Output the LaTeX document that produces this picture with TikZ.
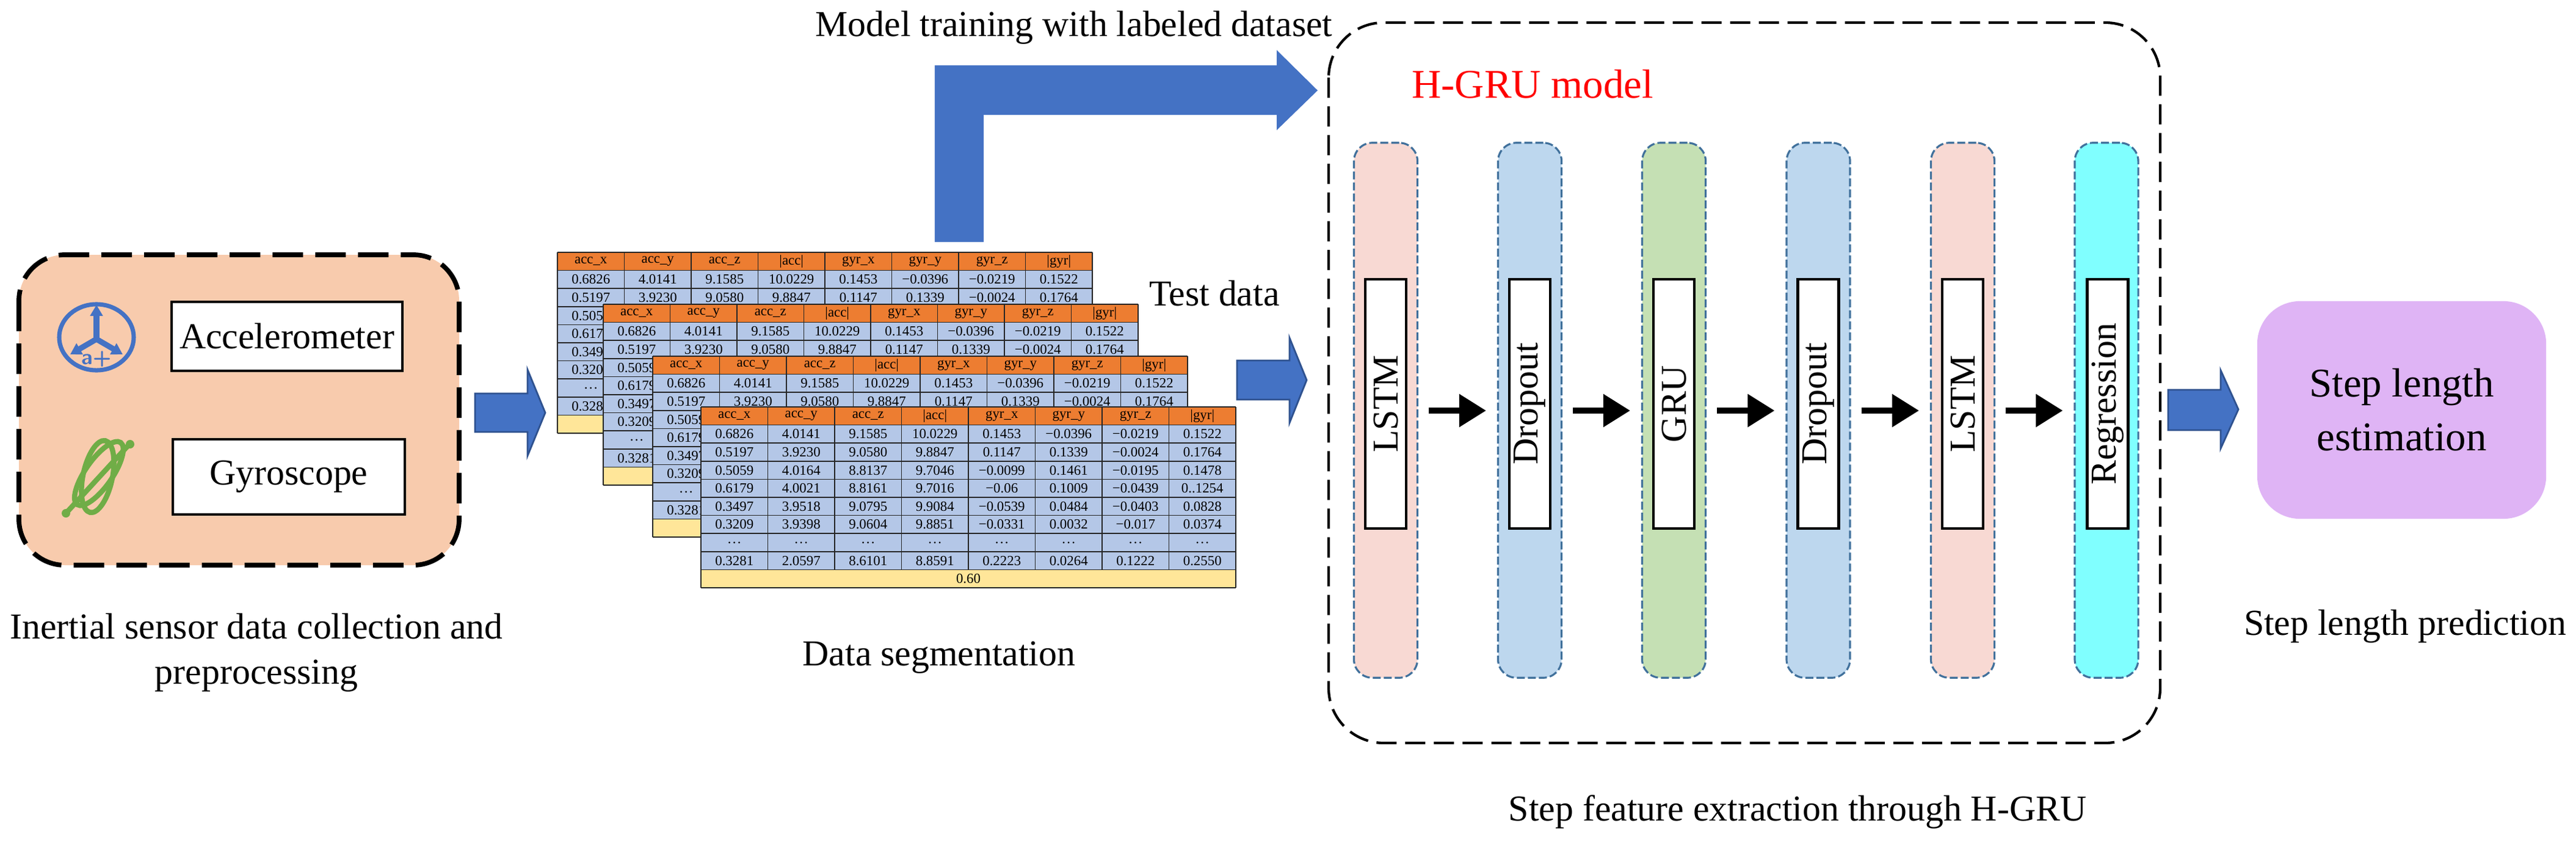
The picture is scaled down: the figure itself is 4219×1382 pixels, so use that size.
\documentclass[tikz,border=0pt]{standalone}
\usepackage{fontspec}
\setmainfont{Liberation Serif}
\usetikzlibrary{shapes.geometric,arrows.meta}
\definecolor{hdr}{HTML}{ED7D31}
\definecolor{cellb}{HTML}{B4C7E7}
\definecolor{foot}{HTML}{FFE699}
\definecolor{blk}{HTML}{4472C4}
\definecolor{blkd}{HTML}{2F528F}
\definecolor{peach}{HTML}{F8CBAD}
\definecolor{lstmc}{HTML}{F8D9D3}
\definecolor{dropc}{HTML}{BDD7EE}
\definecolor{gruc}{HTML}{C5E0B4}
\definecolor{regc}{HTML}{80FFFF}
\definecolor{colb}{HTML}{41719C}
\definecolor{purp}{HTML}{DFB4F5}
\definecolor{gyrg}{HTML}{70AD47}
\newcommand{\tdots}{.\kern0.1em.\kern0.1em.}
\def\tabrows{{0.6826,4.0141,9.1585,10.0229,0.1453,−0.0396,−0.0219,0.1522},
{0.5197,3.9230,9.0580,9.8847,0.1147,0.1339,−0.0024,0.1764},
{0.5059,4.0164,8.8137,9.7046,−0.0099,0.1461,−0.0195,0.1478},
{0.6179,4.0021,8.8161,9.7016,−0.06,0.1009,−0.0439,0..1254},
{0.3497,3.9518,9.0795,9.9084,−0.0539,0.0484,−0.0403,0.0828},
{0.3209,3.9398,9.0604,9.8851,−0.0331,0.0032,−0.017,0.0374},
{\tdots,\tdots,\tdots,\tdots,\tdots,\tdots,\tdots,\tdots},
{0.3281,2.0597,8.6101,8.8591,0.2223,0.0264,0.1222,0.2550}}
% #1,#2 top-left, #3 name prefix, #4 = 1 for front (all texts), 0 for back
\newcommand{\datatable}[4]{%
\begin{scope}[shift={(#1,#2)}]
\fill[hdr] (0,0) rectangle (876,29.6);
\fill[cellb] (0,29.6) rectangle (876,266.4);
\fill[foot] (0,266.4) rectangle (876,296);
\foreach \k in {0,...,8} \draw[gridl] (0,{29.6+\k*29.6}) -- (876,{29.6+\k*29.6});
\draw[gridl] (0,0) -- (876,0) (0,296) -- (876,296) (0,266.4) -- (0,296) (876,266.4) -- (876,296);
\foreach \k in {0,...,8} \draw[gridl] ({\k*109.5},0) -- ({\k*109.5},266.4);
\foreach \h [count=\i] in {acc\_x,acc\_y,acc\_z,|acc|,gyr\_x,gyr\_y,gyr\_z,|gyr|}
  \node[tcell] (#3-h-\i) at ({(\i-0.5)*109.5},14.8) {\h};
\foreach \r [count=\j] in \tabrows {
  \foreach \c [count=\i] in \r {
    \ifnum#4=1 \node[tcell] (#3-\j-\i) at ({(\i-0.5)*109.5},{14.8+\j*29.6}) {\c};
    \else\ifnum\j<3 \node[tcell] (#3-\j-\i) at ({(\i-0.5)*109.5},{14.8+\j*29.6}) {\c};
    \else\ifnum\i=1 \node[tcell] (#3-\j-\i) at ({(\i-0.5)*109.5},{14.8+\j*29.6}) {\c};
    \fi\fi\fi
  }
}
\ifnum#4=1 \node[tcell] (#3-f) at (438,281.2) {0.60};\fi
\end{scope}}
\begin{document}
\begin{tikzpicture}[x=0.01cm,y=-0.01cm,
  lbl/.style={font=\fontsize{17}{21}\selectfont, inner sep=0},
  tcell/.style={font=\fontsize{6.5}{7}\selectfont, inner sep=0},
  gridl/.style={line width=0.45pt, black!85},
  col/.style={draw=colb, line width=0.9pt, dash pattern=on 0.13cm off 0.05cm, rounded corners=0.3cm, minimum width=1.04cm, minimum height=8.75cm, inner sep=0},
  inbox/.style={draw=black, line width=1.3pt, fill=white, rotate=90, minimum width=4.08cm, minimum height=0.67cm, inner sep=0, font=\fontsize{17}{20}\selectfont},
  sarr/.style={line width=2.6pt, -{Triangle[length=0.44cm,width=0.52cm]}, shorten <=0.17cm, shorten >=0.18cm},
  barrow/.style={fill=blk, draw=blkd, line width=0.8pt}]
\useasboundingbox (0,0) rectangle (4219,1382);

% left sensor box
\draw[fill=peach, line width=2.2pt, dash pattern=on 0.5cm off 0.2cm, rounded corners=0.75cm] (31,417) rectangle (752,925);
\node[draw, line width=1.2pt, fill=white, minimum width=3.78cm, minimum height=1.13cm, lbl] (acc) at (470,550.5) {Accelerometer};
\node[draw, line width=1.2pt, fill=white, minimum width=3.80cm, minimum height=1.23cm, lbl] (gyr) at (473,780.5) {Gyroscope};
% accelerometer icon
\node[ellipse, draw=blk, line width=2pt, minimum width=1.22cm, minimum height=1.08cm] (accicon) at (158,552) {};
\draw[blk, line width=2.6pt, -{Triangle[length=0.18cm,width=0.2cm]}] (158,555) -- (158,499);
\draw[blk, line width=2.6pt, -{Triangle[length=0.18cm,width=0.2cm]}] (158,555) -- (115,580);
\draw[blk, line width=2.6pt, -{Triangle[length=0.18cm,width=0.2cm]}] (158,555) -- (201,580);
\node[text=blk, font=\sffamily\bfseries\fontsize{10}{10}\selectfont, inner sep=0] (aplus) at (158,588) {a+};
% gyroscope icon
\begin{scope}[gyrg, line width=2.4pt]
\draw[rotate around={-12:(160,780)}] (160,780) ellipse (24 and 60);
\draw[rotate around={-35:(162,775)}] (162,775) ellipse (22 and 62);
\draw (108,840) -- (211,728);
\fill (108,840) circle (7) (213,727) circle (7);
\end{scope}

% arrow 1
\draw[barrow] (778,644) -- (864,644) -- (864,605) -- (893,675.5) -- (864,746) -- (864,707) -- (778,707) -- cycle;

% tables
\datatable{913}{413}{ta}{0}
\datatable{988}{498}{tb}{0}
\datatable{1069}{583}{tc}{0}
\datatable{1148}{666}{td}{1}

% L arrow
\fill[blk] (1531,396) -- (1531,107) -- (2091,107) -- (2091,82) -- (2158,148) -- (2091,213) -- (2091,188) -- (1611,188) -- (1611,396) -- cycle;
\node[lbl] (mt) at (1759,45) {Model training with labeled dataset};
\node[lbl] (td) at (1989,480) {Test data};
\draw[barrow] (2026,590) -- (2112,590) -- (2112,553) -- (2140,622) -- (2112,692) -- (2112,654) -- (2026,654) -- cycle;
\node[lbl] (ds) at (1538,1076) {Data segmentation};
\node[lbl, align=center] (isd) at (420,1068) {Inertial sensor data collection and\\preprocessing};

% model box
\draw[line width=1.2pt, dash pattern=on 0.33cm off 0.14cm, rounded corners=0.9cm] (2176,37) rectangle (3538,1216);
\node[lbl, text=red, font=\fontsize{19}{22}\selectfont] (hgru) at (2510,138) {H-GRU model};
\node[col, fill=lstmc] (c1) at (2269.5,671.5) {};
\node[col, fill=dropc] (c2) at (2505.5,671.5) {};
\node[col, fill=gruc] (c3) at (2741.5,671.5) {};
\node[col, fill=dropc] (c4) at (2978,671.5) {};
\node[col, fill=lstmc] (c5) at (3214.5,671.5) {};
\node[col, fill=regc] (c6) at (3450,671.5) {};
\node[inbox] (b1) at (2269.5,661) {LSTM};
\node[inbox] (b2) at (2505.5,661) {Dropout};
\node[inbox] (b3) at (2741.5,661) {GRU};
\node[inbox] (b4) at (2978,661) {Dropout};
\node[inbox] (b5) at (3214.5,661) {LSTM};
\node[inbox] (b6) at (3452,661) {Regression};
\foreach \a/\b in {c1/c2,c2/c3,c3/c4,c4/c5,c5/c6}
  \draw[sarr] (\a.east |- 0,672) -- (\b.west |- 0,672);
\node[lbl] (sfe) at (2944,1329) {Step feature extraction through H-GRU};

% output
\draw[barrow] (3551,638) -- (3637,638) -- (3637,606) -- (3666,670) -- (3637,734) -- (3637,704) -- (3551,704) -- cycle;
\node[fill=purp, rounded corners=0.7cm, minimum width=4.73cm, minimum height=3.56cm, align=center, font=\fontsize{19}{25}\selectfont] (sle) at (3933.5,671) {Step length\\estimation};
\node[lbl] (slp) at (3939,1025) {Step length prediction};
\end{tikzpicture}
\end{document}
